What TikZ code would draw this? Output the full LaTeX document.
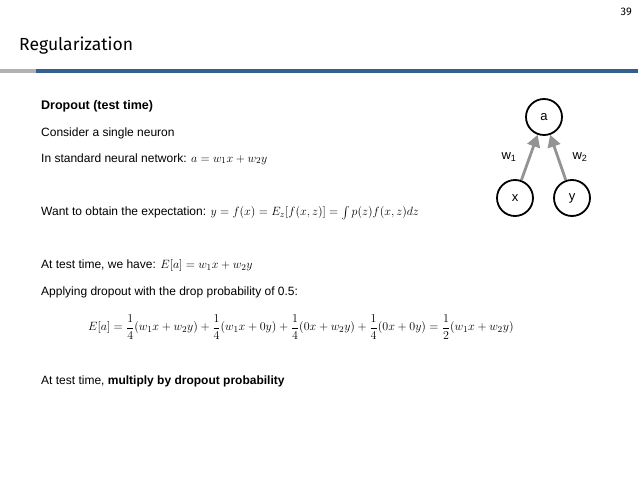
\documentclass[tikz,border=0pt]{standalone}
\usepackage{amsmath}
\usepackage{fontspec}
\setmainfont{Liberation Sans}
\newfontfamily\titlefont{Fira Sans}
\usetikzlibrary{arrows.meta}
\begin{document}
\begin{tikzpicture}[x=1pt,y=-1pt,
  txt/.style={anchor=west,inner sep=0pt,font=\fontsize{12}{14}\selectfont},
  neuron/.style={circle,draw,line width=1.8pt,minimum size=36pt,inner sep=0pt,font=\fontsize{13}{14}\selectfont},
  conn/.style={draw=gray!85,line width=2.8pt,-{Triangle[length=12pt,width=13pt]}},
  wl/.style={font=\fontsize{13}{14}\selectfont}]
\useasboundingbox (0,0) rectangle (638,478);
\node[anchor=east,inner sep=0pt,font=\titlefont\fontsize{11}{12}\selectfont] (pg) at (632,12) {39};
\node[anchor=west,inner sep=0pt,font=\titlefont\fontsize{17.5}{18}\selectfont] (title) at (19,46) {Regularization};
\fill[gray!60] (0,69.5) rectangle (36,73.5);
\fill[color={rgb,255:red,54;green,95;blue,145}] (36,69.5) rectangle (638,73.5);
\node[txt,font=\bfseries\fontsize{12.5}{14}\selectfont] (h) at (41,106) {Dropout (test time)};
\node[txt] (t1) at (41,133) {Consider a single neuron};
\node[txt] (t2) at (41,159) {In standard neural network: {\fontsize{13}{14}\selectfont$a = w_1x + w_2y$}};
\node[txt] (t3) at (41,213) {Want to obtain the expectation: {\fontsize{13}{14}\selectfont$y=f(x)=E_z[f(x,z)]=\int p(z)f(x,z)dz$}};
\node[txt] (t4) at (41,266) {At test time, we have: {\fontsize{13}{14}\selectfont$E[a]=w_1x+w_2y$}};
\node[txt] (t5) at (41,292) {Applying dropout with the drop probability of 0.5:};
\node[txt,font=\fontsize{12.4}{16}\selectfont] (eq) at (88,327) {$E[a]=\dfrac14(w_1x+w_2y)+\dfrac14(w_1x+0y)+\dfrac14(0x+w_2y)+\dfrac14(0x+0y)=\dfrac12(w_1x+w_2y)$};
\node[txt] (t6) at (41,381) {At test time, \textbf{multiply by dropout probability}};
\node[neuron] (a) at (544,117) {a};
\node[neuron] (x) at (515,198) {x};
\node[neuron] (y) at (572,198) {y};
\draw[conn] (x) -- (a);
\draw[conn] (y) -- (a);
\node[wl] (w1) at (509,157) {w\textsubscript{1}};
\node[wl] (w2) at (580,157) {w\textsubscript{2}};
\end{tikzpicture}
\end{document}
